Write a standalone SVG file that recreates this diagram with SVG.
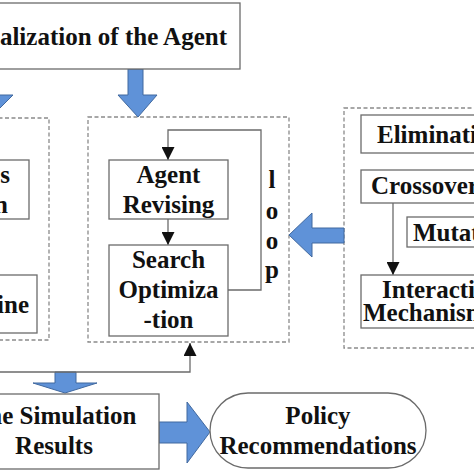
<svg xmlns="http://www.w3.org/2000/svg" width="474" height="474" viewBox="0 0 474 474">
<defs>
<style>
.box{fill:#fff;stroke:#6b6b6b;stroke-width:1.3}
.dash{fill:none;stroke:#8a8a8a;stroke-width:1.3;stroke-dasharray:4 2.5}
.blk{fill:none;stroke:#6b6b6b;stroke-width:1.3}
.blue{fill:#5f92d8;stroke:#41699f;stroke-width:1}
.t{font-family:"Liberation Serif","Times New Roman",serif;font-weight:bold;font-size:25px;fill:#111}
.c{text-anchor:middle}
</style>
<marker id="ah" viewBox="0 0 10 10" refX="10" refY="5" markerWidth="13" markerHeight="13" markerUnits="userSpaceOnUse" orient="auto">
<path d="M0,0 L10,5 L0,10 Z" fill="#111"/>
</marker>
</defs>
<rect width="474" height="474" fill="#fff"/>

<g id="containers">
<rect class="dash" x="-60" y="118" width="109" height="222"/>
<rect class="dash" x="88" y="117" width="201" height="225"/>
<rect class="dash" x="344" y="108" width="160" height="240"/>
</g>

<g id="connectors">
<polygon class="blue" points="128,69 143,69 143,95 157,95 138,117 118,95 128,95"/>
<polygon class="blue" points="-27,69 -12,69 -12,95 13,95 -7,115 -27,95"/>
<polygon class="blue" points="344,228 312,228 312,213 289,235 312,257 312,243 344,243"/>
<polygon class="blue" points="55,372 76,372 76,383 97,383 65,393 33,383 55,383"/>
<polygon class="blue" points="159,422 187,422 187,402 210,432 187,463 187,443 159,443"/>
<line class="blk" x1="168" y1="219" x2="168" y2="245" marker-end="url(#ah)"/>
<polyline class="blk" points="228,290 261,290 261,130 168,130 168,160" marker-end="url(#ah)"/>
<polyline class="blk" points="-10,372 190,372 190,343" marker-end="url(#ah)"/>
<line class="blk" x1="393" y1="203" x2="393" y2="275" marker-end="url(#ah)"/>
<g class="t c">
<text x="272" y="188">l</text>
<text x="272" y="219">o</text>
<text x="272" y="249">o</text>
<text x="272" y="278">p</text>
</g>
</g>

<g id="init">
<rect class="box" x="-54" y="3" width="294" height="66"/>
<text class="t" x="227" y="45" text-anchor="end">Initialization of the Agent</text>
</g>

<g id="left1">
<rect class="box" x="-60" y="160" width="89" height="59"/>
<text class="t" x="10" y="183" text-anchor="end">s</text>
<text class="t" x="8" y="213" text-anchor="end">n</text>
</g>
<g id="left2">
<rect class="box" x="-60" y="275" width="97" height="58"/>
<text class="t" x="29" y="313" text-anchor="end">ine</text>
</g>

<g id="agentRevising">
<rect class="box" x="109" y="160" width="119" height="59"/>
<text class="t c" x="168.5" y="183">Agent</text>
<text class="t c" x="168.5" y="213">Revising</text>
</g>

<g id="searchOpt">
<rect class="box" x="109" y="245" width="119" height="91"/>
<text class="t c" x="168.5" y="268">Search</text>
<text class="t c" x="168.5" y="298">Optimiza</text>
<text class="t c" x="168.5" y="328">-tion</text>
</g>

<g id="elimination">
<rect class="box" x="361" y="115" width="160" height="38"/>
<text class="t" x="377" y="143">Elimination</text>
</g>
<g id="crossover">
<rect class="box" x="361" y="170" width="160" height="33"/>
<text class="t" x="371" y="194">Crossover</text>
</g>
<g id="mutation">
<rect class="box" x="407" y="217" width="110" height="30"/>
<text class="t" x="413" y="241">Mutation</text>
</g>
<g id="interaction">
<rect class="box" x="361" y="275" width="160" height="53"/>
<text class="t" x="382" y="298">Interaction</text>
<text class="t" x="363" y="321">Mechanism</text>
</g>

<g id="simResults">
<rect class="box" x="-51" y="394" width="210" height="75"/>
<text class="t c" x="54" y="424">The Simulation</text>
<text class="t c" x="54" y="454">Results</text>
</g>

<g id="policy">
<rect class="box" x="210" y="393" width="216" height="75" rx="38" ry="37.5"/>
<text class="t c" x="318" y="424">Policy</text>
<text class="t c" x="318" y="454">Recommendations</text>
</g>
</svg>
